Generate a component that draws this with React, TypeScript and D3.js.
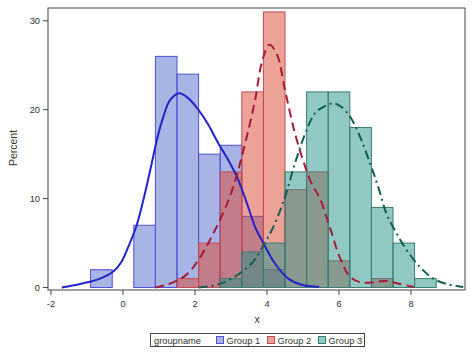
import React from "react";
import * as d3 from "d3";

// ---- data ----
const binMids = [-0.6, 0, 0.6, 1.2, 1.8, 2.4, 3.0, 3.6, 4.2, 4.8, 5.4, 6.0, 6.6, 7.2, 7.8, 8.4];
const binWidth = 0.6;
const group1 = [2, 0, 7, 26, 24, 15, 16, 8, 2, 0, 0, 0, 0, 0, 0, 0];
const group2 = [0, 0, 0, 0, 1, 5, 13, 22, 31, 11, 13, 3, 0, 1, 0, 0];
const group3 = [0, 0, 0, 0, 0, 0, 1, 4, 5, 13, 22, 22, 18, 9, 5, 1];

const curve1: [number, number][] = [
  [-1.7, 0], [-1.19, 0.4], [-0.64, 1.0], [-0.27, 1.8], [-0.04, 2.9], [0.19, 5.0], [0.38, 7.0],
  [0.61, 10.6], [0.8, 14.0], [0.94, 16.6], [1.12, 19.2], [1.31, 21.1], [1.56, 21.85], [1.81, 21.3],
  [2.09, 20.0], [2.37, 18.3], [2.65, 16.2], [2.93, 14.3], [3.16, 12.5], [3.44, 9.5], [3.67, 6.8],
  [3.9, 5.0], [4.22, 2.7], [4.59, 1.0], [4.96, 0.3], [5.45, 0.05],
];
const curve2: [number, number][] = [
  [0.89, 0], [1.2, 0.3], [1.54, 0.85], [1.81, 1.6], [2.19, 3.7], [2.56, 6.5], [2.93, 9.8],
  [3.2, 13.2], [3.44, 17.0], [3.67, 21.1], [3.85, 25.2], [4.06, 27.3], [4.27, 26.3], [4.5, 22.2],
  [4.78, 17.3], [5.06, 13.6], [5.25, 11.6], [5.47, 10.0], [5.75, 6.7], [6.03, 3.3], [6.31, 1.2],
  [6.58, 0.6], [6.86, 0.55], [7.1, 0.68], [7.32, 0.73], [7.69, 0.4], [8.08, 0.05],
];
const curve3: [number, number][] = [
  [2.1, 0], [2.6, 0.3], [3.02, 1.0], [3.57, 2.7], [3.94, 5.0], [4.22, 7.2], [4.5, 10.2],
  [4.78, 14.0], [5.06, 17.3], [5.33, 19.6], [5.56, 20.3], [5.84, 20.7], [6.07, 20.3], [6.31, 19.2],
  [6.58, 17.0], [6.86, 14.0], [7.09, 11.3], [7.32, 8.3], [7.6, 6.1], [7.88, 4.2], [8.25, 2.3],
  [8.62, 1.0], [8.99, 0.4], [9.45, 0.05],
];

const xTicks = [-2, 0, 2, 4, 6, 8];
const yTicks = [0, 10, 20, 30];
const groupNames = ["Group 1", "Group 2", "Group 3"];

// ---- styles ----
const W = 474;
const H = 355;
const frame = { left: 48, right: 465, top: 8, bottom: 290 };
const FONT = "'Liberation Sans', Arial, sans-serif";

const groupStyles = [
  { fill: "rgb(81,105,200)", stroke: "rgb(80,80,215)", line: "#2424c8", dash: "" },
  { fill: "rgb(220,70,50)", stroke: "rgb(195,75,85)", line: "#a31c3a", dash: "9,5" },
  { fill: "rgb(35,145,135)", stroke: "rgb(60,125,115)", line: "#0e5e4e", dash: "9,4,2,4" },
];

export default function App() {
  const x = d3.scaleLinear().domain([-2, 8]).range([51, 411]);
  const y = d3.scaleLinear().domain([0, 30]).range([287.5, 20.8]);

  const line = d3
    .line<[number, number]>()
    .x((d) => x(d[0]))
    .y((d) => y(d[1]))
    .curve(d3.curveCatmullRom.alpha(0.5));

  const groups = [group1, group2, group3];
  const curves = [curve1, curve2, curve3];

  return (
    <svg
      width={W}
      height={H}
      style={{ position: "absolute", left: 0, top: 0, background: "#fff" }}
      fontFamily={FONT}
    >
      <rect x={0} y={0} width={W} height={H} fill="#fff" />
      <defs>
        <clipPath id="plotclip">
          <rect
            x={frame.left}
            y={frame.top}
            width={frame.right - frame.left}
            height={frame.bottom - frame.top}
          />
        </clipPath>
      </defs>
      <g clipPath="url(#plotclip)">
        {groups.map((vals, gi) => (
          <g key={gi}>
            {vals.map((v, i) =>
              v > 0 ? (
                <rect
                  key={i}
                  x={x(binMids[i] - binWidth / 2)}
                  y={y(v)}
                  width={x(binMids[i] + binWidth / 2) - x(binMids[i] - binWidth / 2)}
                  height={y(0) - y(v)}
                  fill={groupStyles[gi].fill}
                  fillOpacity={0.5}
                  stroke={groupStyles[gi].stroke}
                  strokeWidth={1}
                />
              ) : null
            )}
          </g>
        ))}
        {curves.map((c, gi) => (
          <path
            key={gi}
            d={line(c) || ""}
            fill="none"
            stroke={groupStyles[gi].line}
            strokeWidth={2}
            strokeDasharray={groupStyles[gi].dash || undefined}
          />
        ))}
      </g>
      {/* frame */}
      <rect
        x={frame.left}
        y={frame.top}
        width={frame.right - frame.left}
        height={frame.bottom - frame.top}
        fill="none"
        stroke="#444"
        strokeWidth={1}
      />
      {/* y axis */}
      {yTicks.map((t) => (
        <g key={t}>
          <line x1={frame.left - 5} x2={frame.left} y1={y(t)} y2={y(t)} stroke="#444" />
          <text
            x={frame.left - 8}
            y={y(t)}
            dy="0.35em"
            textAnchor="end"
            fontSize={9.3}
            fill="#333"
          >
            {t}
          </text>
        </g>
      ))}
      {/* x axis */}
      {xTicks.map((t) => (
        <g key={t}>
          <line x1={x(t)} x2={x(t)} y1={frame.bottom} y2={frame.bottom + 5} stroke="#444" />
          <text x={x(t)} y={frame.bottom + 17} textAnchor="middle" fontSize={9.3} fill="#333">
            {t}
          </text>
        </g>
      ))}
      <text x={257} y={323} textAnchor="middle" fontSize={10.5} fill="#333">
        x
      </text>
      <text
        transform={`translate(17,148) rotate(-90)`}
        textAnchor="middle"
        fontSize={10.5}
        fill="#333"
      >
        Percent
      </text>
      {/* legend */}
      <rect x={150.5} y={333.5} width={214} height={13} fill="#fff" stroke="#444" />
      <text x={154} y={343.5} fontSize={9.3} fill="#333">
        groupname
      </text>
      {groupNames.map((g, gi) => {
        const sx = [216.5, 267.5, 318.5][gi];
        return (
          <g key={g}>
            <rect
              x={sx}
              y={336.5}
              width={7}
              height={7}
              fill={groupStyles[gi].fill}
              fillOpacity={0.5}
              stroke={groupStyles[gi].stroke}
            />
            <text x={sx + 10} y={343.5} fontSize={9.3} fill="#333">
              {g}
            </text>
          </g>
        );
      })}
    </svg>
  );
}
